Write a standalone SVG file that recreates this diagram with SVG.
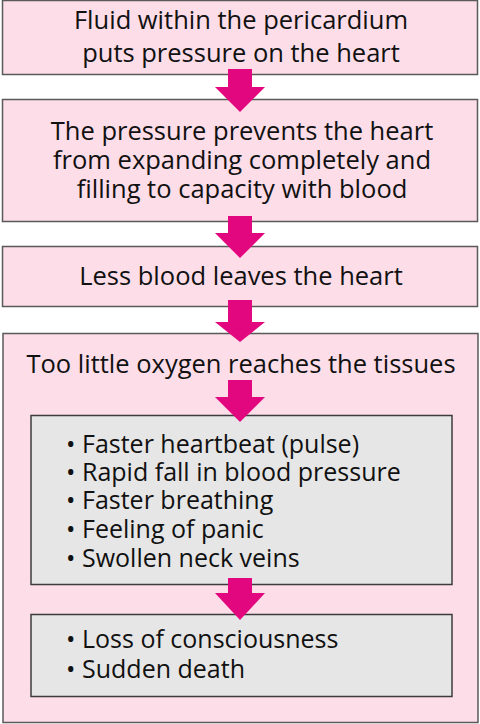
<svg xmlns="http://www.w3.org/2000/svg" width="480" height="724" viewBox="0 0 480 724">
<style>
.pink{fill:#fcdde8;stroke:#5a5a5a;stroke-width:1.5}
.gray{fill:#e6e6e6;stroke:#3c3c3c;stroke-width:1.5}
.arr{fill:#e2077e}
text{font-family:"Open Sans","Liberation Sans",sans-serif;font-size:25.5px;fill:#111}
.c{text-anchor:middle}
.b{font-size:25px}
</style>
<rect width="480" height="724" fill="#ffffff"/>
<g id="n1">
<rect class="pink" x="2.5" y="0.5" width="475" height="74"/>
<text class="c" x="241" y="29">Fluid within the pericardium</text>
<text class="c" x="241" y="62">puts pressure on the heart</text>
</g>
<g id="n2">
<rect class="pink" x="2.5" y="99.5" width="475" height="122"/>
<text class="c" x="242" y="140">The pressure prevents the heart</text>
<text class="c" x="242" y="169">from expanding completely and</text>
<text class="c" x="242" y="198">filling to capacity with blood</text>
</g>
<g id="n3">
<rect class="pink" x="2.5" y="246.5" width="475" height="60"/>
<text class="c" x="241" y="285">Less blood leaves the heart</text>
</g>
<g id="n4">
<rect class="pink" x="3" y="333.5" width="475" height="389"/>
<text class="c" x="241" y="373">Too little oxygen reaches the tissues</text>
</g>
<g id="n5" class="b">
<rect class="gray" x="31" y="415.5" width="421" height="169"/>
<text class="b" y="453"><tspan x="66">•</tspan><tspan x="82">Faster heartbeat (pulse)</tspan></text>
<text class="b" y="481"><tspan x="66">•</tspan><tspan x="82">Rapid fall in blood pressure</tspan></text>
<text class="b" y="509"><tspan x="66">•</tspan><tspan x="82">Faster breathing</tspan></text>
<text class="b" y="538"><tspan x="66">•</tspan><tspan x="82">Feeling of panic</tspan></text>
<text class="b" y="567"><tspan x="66">•</tspan><tspan x="82">Swollen neck veins</tspan></text>
</g>
<g id="n6">
<rect class="gray" x="31" y="614.5" width="421" height="82"/>
<text class="b" y="648"><tspan x="66">•</tspan><tspan x="82">Loss of consciousness</tspan></text>
<text class="b" y="678"><tspan x="66">•</tspan><tspan x="82">Sudden death</tspan></text>
</g>
<g id="connectors">
<polygon class="arr" points="228,69 252,69 252,87 265,87 240,112 215,87 228,87"/>
<polygon class="arr" points="228,216 252,216 252,233 265,233 240,258 215,233 228,233"/>
<polygon class="arr" points="228,300 252,300 252,322 265,322 240,342 215,322 228,322"/>
<polygon class="arr" points="228,380 252,380 252,397 265,397 240,422 215,397 228,397"/>
<polygon class="arr" points="228,578 252,578 252,593 265,593 240,620 215,593 228,593"/>
</g>
</svg>
